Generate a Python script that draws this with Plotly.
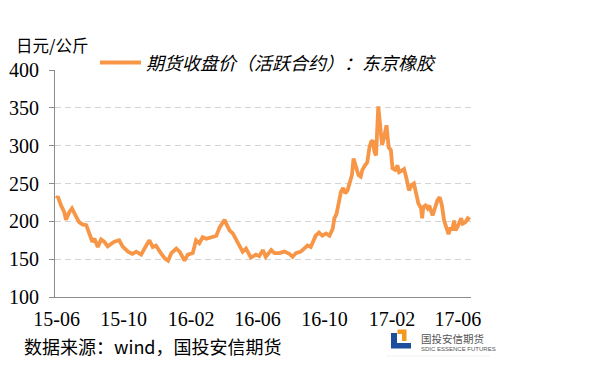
import plotly.graph_objects as go

dates = [
    "2015-06-01", "2015-06-03", "2015-06-09", "2015-06-15", "2015-06-18", "2015-06-24", "2015-06-29",
    "2015-07-03", "2015-07-06", "2015-07-12", "2015-07-18", "2015-07-25", "2015-07-31",
    "2015-08-05", "2015-08-09", "2015-08-15", "2015-08-21", "2015-08-27",
    "2015-09-02", "2015-09-08", "2015-09-14", "2015-09-23", "2015-09-29",
    "2015-10-09", "2015-10-17", "2015-10-24",
    "2015-11-02", "2015-11-08", "2015-11-14", "2015-11-17", "2015-11-23", "2015-11-29",
    "2015-12-06", "2015-12-15", "2015-12-21", "2015-12-27",
    "2016-01-05", "2016-01-11", "2016-01-20", "2016-01-26",
    "2016-02-04", "2016-02-10", "2016-02-16", "2016-02-22", "2016-02-29",
    "2016-03-09", "2016-03-18", "2016-03-24", "2016-03-29",
    "2016-04-02", "2016-04-05", "2016-04-11", "2016-04-17", "2016-04-23", "2016-04-29",
    "2016-05-05", "2016-05-11", "2016-05-20", "2016-05-29",
    "2016-06-04", "2016-06-11", "2016-06-16", "2016-06-26",
    "2016-07-02", "2016-07-11", "2016-07-20", "2016-07-29",
    "2016-08-04", "2016-08-10", "2016-08-19", "2016-08-25", "2016-08-31",
    "2016-09-06", "2016-09-15", "2016-09-21", "2016-09-27",
    "2016-10-04", "2016-10-10", "2016-10-16", "2016-10-19", "2016-10-23", "2016-10-27", "2016-10-31",
    "2016-11-04", "2016-11-08", "2016-11-12", "2016-11-16", "2016-11-20", "2016-11-23", "2016-11-27",
    "2016-12-02", "2016-12-06", "2016-12-09", "2016-12-14", "2016-12-18", "2016-12-22", "2016-12-25",
    "2016-12-28", "2016-12-31",
    "2017-01-03", "2017-01-07", "2017-01-10", "2017-01-14", "2017-01-18", "2017-01-22", "2017-01-26",
    "2017-01-30",
    "2017-02-02", "2017-02-07", "2017-02-11", "2017-02-14", "2017-02-19", "2017-02-23", "2017-02-27",
    "2017-03-04", "2017-03-09", "2017-03-13", "2017-03-17", "2017-03-21", "2017-03-26", "2017-03-28",
    "2017-03-30",
    "2017-04-03", "2017-04-07", "2017-04-10", "2017-04-13", "2017-04-16", "2017-04-21", "2017-04-25",
    "2017-04-29",
    "2017-05-03", "2017-05-07", "2017-05-11", "2017-05-15", "2017-05-19", "2017-05-22", "2017-05-25",
    "2017-05-28",
    "2017-06-02", "2017-06-07", "2017-06-10", "2017-06-15", "2017-06-19", "2017-06-23",
]

prices = [
    230, 233, 221, 212, 202, 212, 217,
    210, 207, 199, 196, 195, 184,
    173, 177, 166, 176, 173,
    167, 170, 173, 175, 167,
    160, 157, 160,
    156, 164, 173, 175, 166, 168,
    160, 151, 148, 158,
    164, 160, 148, 156,
    158, 175, 171, 179, 177,
    179, 181, 192, 199,
    202, 197, 188, 184, 175, 168,
    160, 164, 152, 156,
    154, 162, 153, 162,
    158, 158, 160, 157,
    153, 158, 160, 164, 168,
    166, 181, 185, 181,
    184, 181, 190, 204, 210, 222, 239,
    244, 237, 241, 250, 261, 283, 274,
    261, 259, 268, 274, 278, 298, 305,
    307, 292,
    287, 352, 330, 301, 312, 327, 298,
    294,
    270, 268, 274, 265, 267, 269, 258,
    241, 248, 250, 237, 224, 217, 204,
    219,
    221, 217, 221, 214, 208, 219, 228,
    232,
    221, 201, 190, 183, 192, 188, 201,
    188,
    195, 204, 197, 199, 204, 202,
]

series_name = "期货收盘价（活跃合约）：东京橡胶"
unit_label = "日元/公斤"
source_text = "数据来源：wind，国投安信期货"
tick_dates = ["2015-06-01", "2015-10-01", "2016-02-01", "2016-06-01",
              "2016-10-01", "2017-02-01", "2017-06-01"]
tick_labels = ["15-06", "15-10", "16-02", "16-06", "16-10", "17-02", "17-06"]
y_ticks = [100, 150, 200, 250, 300, 350, 400]

ORANGE = "#F79646"
CJK = "Noto Sans CJK SC"
SERIF = "Liberation Serif"

# plot area in pixels: left 55, right 471, top 70, bottom 297
W, H = 597, 376
L, R, T, B = 55, 471, 70, 297
pw, ph = R - L, B - T


def px(x):
    return (x - L) / pw


def py(y):
    return (B - y) / ph


fig = go.Figure()
fig.add_trace(go.Scatter(
    x=dates, y=prices, mode="lines", name=series_name,
    line=dict(color=ORANGE, width=3.8), showlegend=False,
))

fig.update_layout(
    width=W, height=H,
    margin=dict(l=L, r=W - R, t=T, b=H - B, pad=0),
    paper_bgcolor="white", plot_bgcolor="white",
    xaxis=dict(
        type="date", range=["2015-05-29", "2017-06-25"], automargin=False,
        tickvals=tick_dates, ticktext=tick_labels, ticks="",
        showgrid=False, zeroline=False,
        showline=True, linecolor="#8c8c8c", linewidth=1.2,
        tickfont=dict(family=SERIF, size=20, color="#000"),
        ticklabelstandoff=4,
    ),
    yaxis=dict(
        range=[100, 400], tickvals=y_ticks, ticks="outside", ticklen=5, automargin=False,
        tickcolor="#8c8c8c", tickwidth=1.2,
        showline=True, linecolor="#8c8c8c", linewidth=1.2,
        showgrid=True, gridcolor="#d4d4d4", gridwidth=1, griddash="6px,4px",
        zeroline=False,
        tickfont=dict(family=SERIF, size=20, color="#000"),
        ticklabelstandoff=6,
    ),
    shapes=[
        # legend sample line
        dict(type="line", xref="paper", yref="paper",
             x0=px(100), x1=px(141), y0=py(62.5), y1=py(62.5),
             line=dict(color=ORANGE, width=4)),
        # logo icon: blue L and orange reversed L
        dict(type="path", xref="paper", yref="paper",
             path=f"M {px(391)},{py(333)} L {px(397)},{py(333)} L {px(397)},{py(343)} "
                  f"L {px(411)},{py(343)} L {px(411)},{py(348.5)} L {px(391)},{py(348.5)} Z",
             fillcolor="#1d4f9c", line=dict(width=0)),
        dict(type="path", xref="paper", yref="paper",
             path=f"M {px(397.5)},{py(329.5)} L {px(406.5)},{py(329.5)} L {px(406.5)},{py(341)} "
                  f"L {px(402)},{py(341)} L {px(402)},{py(334)} L {px(397.5)},{py(334)} Z",
             fillcolor="#f39a1e", line=dict(width=0)),
        dict(type="line", xref="paper", yref="paper",
             x0=px(386), x1=px(490), y0=py(356), y1=py(356),
             line=dict(color="#f0f0f0", width=1)),
    ],
    annotations=[
        dict(text=unit_label, xref="paper", yref="paper", x=px(14), y=py(45.5),
             xanchor="left", yanchor="middle", showarrow=False,
             font=dict(family=CJK, size=16.5, color="#000")),
        dict(text=series_name, xref="paper", yref="paper", x=px(144), y=py(62),
             xanchor="left", yanchor="middle", showarrow=False,
             font=dict(family=CJK, size=18, color="#000", style="italic")),
        dict(text=source_text, xref="paper", yref="paper", x=px(22), y=py(346),
             xanchor="left", yanchor="middle", showarrow=False,
             font=dict(family=CJK, size=18, color="#000")),
        dict(text="国投安信期货", xref="paper", yref="paper", x=px(419), y=py(338.5),
             xanchor="left", yanchor="middle", showarrow=False,
             font=dict(family=CJK, size=10.5, color="#555")),
        dict(text="SDIC ESSENCE FUTURES", xref="paper", yref="paper", x=px(419), y=py(348.5),
             xanchor="left", yanchor="middle", showarrow=False,
             font=dict(family="Liberation Sans Narrow, Liberation Sans", size=6, color="#555")),
    ],
)

fig.write_html("out.html")
